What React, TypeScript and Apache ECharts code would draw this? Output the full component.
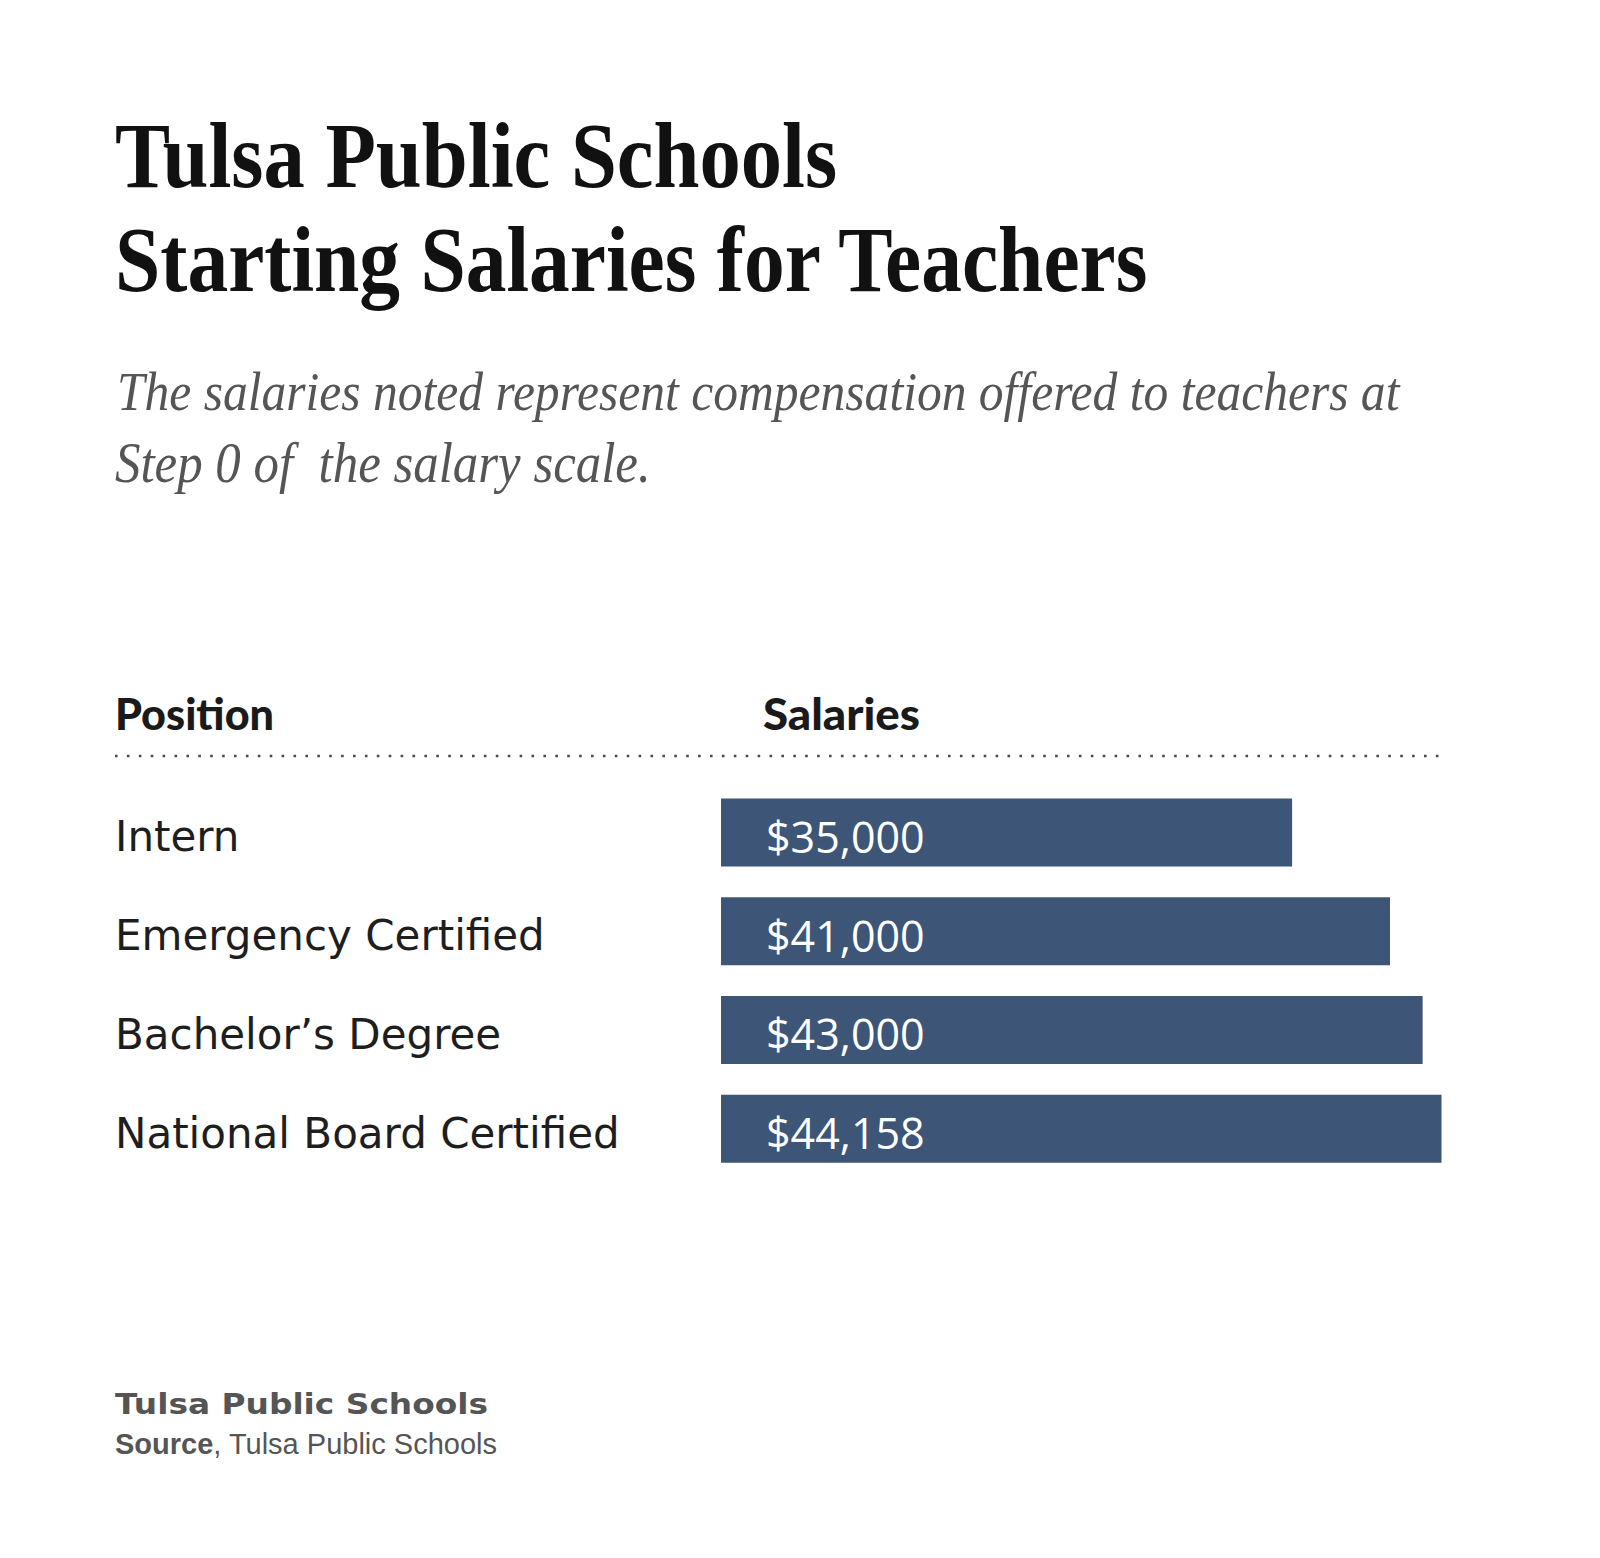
import React, { useEffect, useRef } from 'react';
import * as echarts from 'echarts';

const categories = ['Intern', 'Emergency Certified', 'Bachelor’s Degree', 'National Board Certified'];
const salaries = [35000, 41000, 43000, 44158];
const titleLines = ['Tulsa Public Schools', 'Starting Salaries for Teachers'];
const subtitleLines = ['The salaries noted represent compensation offered to teachers at', 'Step 0 of  the salary scale.'];
const columnHeaders = ['Position', 'Salaries'];
const footerOrg = 'Tulsa Public Schools';
const sourceLabel = 'Source';
const sourceText = 'Tulsa Public Schools';

const SERIF = '"Liberation Serif", "Times New Roman", serif';
const HEAD = 'Lato, "DejaVu Sans", sans-serif';
const LABEL = '"DejaVu Sans", sans-serif';
const VALUE = '"Open Sans", "Liberation Sans", Arial, sans-serif';
const SRC = '"Liberation Sans", Arial, sans-serif';
const FOOT = '"DejaVu Sans", sans-serif';

function measure(text: string, font: string): number {
  const c = document.createElement('canvas');
  const ctx = c.getContext('2d')!;
  ctx.font = font;
  return ctx.measureText(text).width;
}

function fitText(text: string, x: number, y: number, target: number, o: any) {
  const font = `${o.fontStyle || 'normal'} ${o.fontWeight || 'normal'} ${o.fontSize}px ${o.fontFamily}`;
  const w = measure(text, font);
  const s = target / w;
  return {
    type: 'text',
    x,
    y,
    scaleX: s,
    silent: true,
    style: {
      text,
      fontSize: o.fontSize,
      fontFamily: o.fontFamily,
      fontWeight: o.fontWeight || 'normal',
      fontStyle: o.fontStyle || 'normal',
      fill: o.fill,
      align: 'left',
      verticalAlign: 'middle',
      textAlign: 'left',
      textVerticalAlign: 'middle',
    },
  };
}

export default function App() {
  const ref = useRef<HTMLDivElement>(null);
  useEffect(() => {
    if (!ref.current) return;
    const chart = echarts.init(ref.current, undefined, { renderer: 'svg' });
    const graphics: any[] = [
      fitText(titleLines[0], 115, 156, 722, { fontSize: 93, fontFamily: SERIF, fontWeight: 'bold', fill: '#111111' }),
      fitText(titleLines[1], 115, 260, 1036, { fontSize: 93, fontFamily: SERIF, fontWeight: 'bold', fill: '#111111' }),
      fitText(subtitleLines[0], 117, 391, 1283, { fontSize: 56, fontFamily: SERIF, fontStyle: 'italic', fill: '#555555' }),
      fitText(subtitleLines[1], 115, 463, 536, { fontSize: 56, fontFamily: SERIF, fontStyle: 'italic', fill: '#555555' }),
      fitText(columnHeaders[0], 115, 713, 159, { fontSize: 43, fontFamily: HEAD, fontWeight: 900, fill: '#1a1a1a' }),
      fitText(columnHeaders[1], 763, 713, 157, { fontSize: 43, fontFamily: HEAD, fontWeight: 900, fill: '#1a1a1a' }),
      {
        type: 'line',
        silent: true,
        shape: { x1: 115, y1: 756, x2: 1446, y2: 756 },
        style: { stroke: '#4a4a4a', lineWidth: 2.4, lineDash: [2.6, 9.3] },
      },
      fitText(footerOrg, 115, 1404, 373, { fontSize: 28, fontFamily: FOOT, fontWeight: 'bold', fill: '#555555' }),
      {
        type: 'text',
        x: 115,
        y: 1444,
        silent: true,
        style: {
          text: `{b|${sourceLabel}}, ${sourceText}`,
          fontSize: 29,
          fontFamily: SRC,
          fill: '#555555',
          align: 'left',
          verticalAlign: 'middle',
          textAlign: 'left',
          textVerticalAlign: 'middle',
          rich: {
            b: { fontSize: 29, fontFamily: SRC, fontWeight: 'bold', fill: '#555555', color: '#555555' },
          },
        },
      },
    ];

    chart.setOption({
      animation: false,
      backgroundColor: '#ffffff',
      grid: { left: 721, top: 783, width: 731, height: 395, containLabel: false, outerBoundsMode: 'none' },
      xAxis: { type: 'value', min: 0, max: 44800, show: false },
      yAxis: {
        type: 'category',
        data: categories,
        inverse: true,
        axisLine: { show: false },
        axisTick: { show: false },
        splitLine: { show: false },
        axisLabel: {
          align: 'left',
          verticalAlign: 'top',
          lineHeight: 9,
          margin: 606,
          fontSize: 42,
          fontFamily: LABEL,
          color: '#1e1e1e',
        },
      },
      series: [
        {
          type: 'bar',
          data: salaries,
          barWidth: 68,
          itemStyle: { color: '#3d5577' },
          label: {
            show: true,
            position: 'insideLeft',
            distance: 45,
            offset: [0, 4],
            color: '#ffffff',
            fontSize: 43,
            fontFamily: VALUE,
            formatter: (p: any) => '$' + Number(p.value).toLocaleString('en-US'),
          },
        },
      ],
      graphic: graphics,
    });
    return () => chart.dispose();
  }, []);
  return (
    <div
      ref={ref}
      style={{ position: 'fixed', left: 0, top: 0, width: 1600, height: 1558, background: '#ffffff' }}
    />
  );
}
